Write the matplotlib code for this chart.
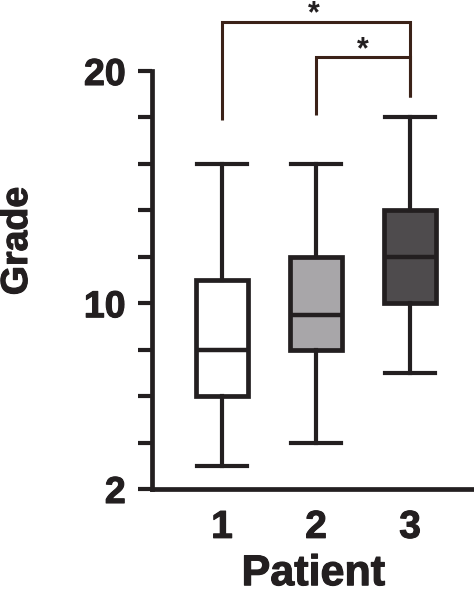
import matplotlib
matplotlib.use("Agg")
import matplotlib.pyplot as plt
import matplotlib.patheffects as pe

categories = ["1", "2", "3"]
whislo = [3, 4, 7]
q1 = [6, 8, 10]
med = [8, 9.5, 12]
q3 = [11, 12, 14]
whishi = [16, 16, 18]
fills = ["#ffffff", "#a8a6a9", "#4e4b4d"]
ytick_vals = [2, 4, 6, 8, 10, 12, 14, 16, 18, 20]
ytick_labels = ["2", "", "", "", "10", "", "", "", "", "20"]
# (from, to, bracket height, left leg end, right leg end)
brackets = [(1, 3, 22.1, 17.9, 18.9), (2, 3, 20.6, 18.1, 18.9)]
star_pos = [(1.98, 22.1), (2.50, 20.55)]

plt.rcParams['font.family'] = ['Liberation Sans', 'DejaVu Sans']
plt.rcParams['font.weight'] = 'bold'

fig = plt.figure(figsize=(4.74, 5.97), dpi=100)
ax = fig.add_axes([152/474, 1-489/597, 1-152/474, (489-71)/597])

lc = "#231f20"
heavy = [pe.withStroke(linewidth=0.8, foreground=lc)]
stats = []
for i, c in enumerate(categories):
    stats.append(dict(label=c, whislo=whislo[i], q1=q1[i], med=med[i], q3=q3[i], whishi=whishi[i], fliers=[]))
bp = ax.bxp(stats, positions=[1, 2, 3], widths=0.56, patch_artist=True, showfliers=False,
            boxprops=dict(linewidth=3.4, edgecolor=lc),
            medianprops=dict(linewidth=3.2, color=lc),
            whiskerprops=dict(linewidth=3, color=lc),
            capprops=dict(linewidth=3, color=lc),
            capwidths=0.54)
for patch, f in zip(bp['boxes'], fills):
    patch.set_facecolor(f)

ax.set_xlim(0.255, 3.68)
ax.set_ylim(2, 20)
ax.set_yticks(ytick_vals)
ax.set_yticklabels(ytick_labels, fontsize=27, fontweight='bold', color=lc)
ax.set_xticks([1, 2, 3])
ax.set_xticklabels(categories, fontsize=28, fontweight='bold', color=lc)
for t in ax.get_xticklabels() + ax.get_yticklabels():
    t.set_path_effects(heavy)
ax.tick_params(axis='y', length=10, width=3, color=lc, pad=9)
ax.tick_params(axis='x', length=0, pad=15)
for s in ['top', 'right']:
    ax.spines[s].set_visible(False)
for s in ['left', 'bottom']:
    ax.spines[s].set_linewidth(3.4)
    ax.spines[s].set_color(lc)

xl = ax.set_xlabel("Patient", fontsize=31, fontweight='bold', labelpad=6, color=lc)
xl.set_path_effects(heavy)
gt = fig.text(17/474, 1-241/597, "Grade", rotation=90, fontsize=27, fontweight='bold',
              ha='center', va='center', color=lc)
gt.set_path_effects(heavy)

bc = "#3b2218"
for (a, b, top, la, lb) in brackets:
    ax.plot([a, a, b, b], [la, top, top, lb], color=bc, lw=2.2, clip_on=False,
            solid_joinstyle='miter', solid_capstyle='butt')
for (sx, sy) in star_pos:
    ax.text(sx, sy, "*", ha='center', va='baseline', fontsize=22, fontweight='bold',
            color=lc, clip_on=False)

fig.savefig("out.png", dpi=100)
